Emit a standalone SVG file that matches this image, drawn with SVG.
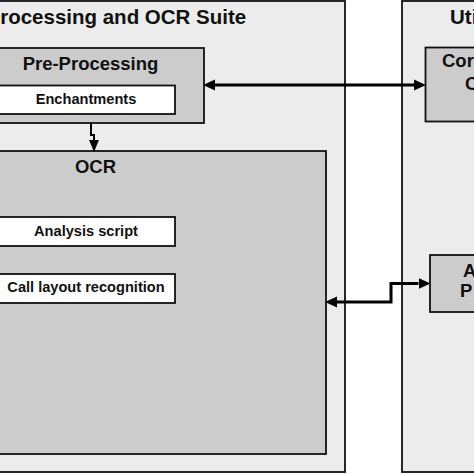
<svg xmlns="http://www.w3.org/2000/svg" width="474" height="474" viewBox="0 0 474 474">
<style>
.outer{fill:#ececec;stroke:#111;stroke-width:1.8}
.inner{fill:#cccccc;stroke:#111;stroke-width:1.8}
.white{fill:#ffffff;stroke:#111;stroke-width:1.8}
text{font-family:"Liberation Sans",Arial,sans-serif;font-weight:bold;fill:#111}
.title{font-size:20.5px}
.head{font-size:18.5px}
.lbl{font-size:14.6px;text-anchor:middle}
.mid{text-anchor:middle}
.conn{fill:none;stroke:#000;stroke-width:3}
</style>
<defs>
<marker id="ah" markerUnits="userSpaceOnUse" markerWidth="12" markerHeight="12" refX="0" refY="5" orient="auto-start-reverse" viewBox="0 0 11 10">
<path d="M0,0 L11,5 L0,10 z" fill="#000"/>
</marker>
<marker id="ahs" markerUnits="userSpaceOnUse" markerWidth="12" markerHeight="10" refX="0" refY="4.5" orient="auto" viewBox="0 0 11 9">
<path d="M0,0 L11,4.5 L0,9 z" fill="#000"/>
</marker>
</defs>
<rect width="474" height="474" fill="#ffffff"/>
<g id="suite">
<rect class="outer" x="-10" y="1" width="355" height="471"/>
<text class="title" x="-13.5" y="23.5">Processing and OCR Suite</text>
</g>
<g id="utilities">
<rect class="outer" x="402" y="1" width="100" height="471"/>
<text class="title" x="450" y="24">Uti</text>
</g>
<g id="preprocessing">
<rect class="inner" x="-10" y="48" width="214" height="75"/>
<text class="head mid" x="90.5" y="70">Pre-Processing</text>
</g>
<g id="enchantments">
<rect class="white" x="-10" y="85.5" width="185" height="28.5"/>
<text class="lbl" x="86" y="103.5">Enchantments</text>
</g>
<g id="ocr">
<rect class="inner" x="-10" y="151" width="336" height="303"/>
<text class="head mid" x="95.5" y="173">OCR</text>
</g>
<g id="analysis">
<rect class="white" x="-10" y="217" width="185" height="29"/>
<text class="lbl" x="86" y="235.5">Analysis script</text>
</g>
<g id="layout">
<rect class="white" x="-10" y="274" width="185" height="29"/>
<text class="lbl" x="86" y="292">Call layout recognition</text>
</g>
<g id="cor">
<rect class="inner" x="425.5" y="47.5" width="80" height="74"/>
<text class="head" x="442" y="67">Cor</text>
<text class="head" x="465" y="90">C</text>
</g>
<g id="ap">
<rect class="inner" x="430" y="255" width="80" height="57"/>
<text class="head" x="463" y="277">A</text>
<text class="head" x="460" y="297">P</text>
</g>
<g id="connectors">
<path class="conn" d="M215,85 H414" marker-start="url(#ah)" marker-end="url(#ah)"/>
<path class="conn" style="stroke-width:2" d="M91,123 V135 H94 V140" marker-end="url(#ahs)"/>
<path class="conn" d="M337,302 H391 V283.5 H418.5" marker-start="url(#ah)" marker-end="url(#ah)"/>
</g>
</svg>
